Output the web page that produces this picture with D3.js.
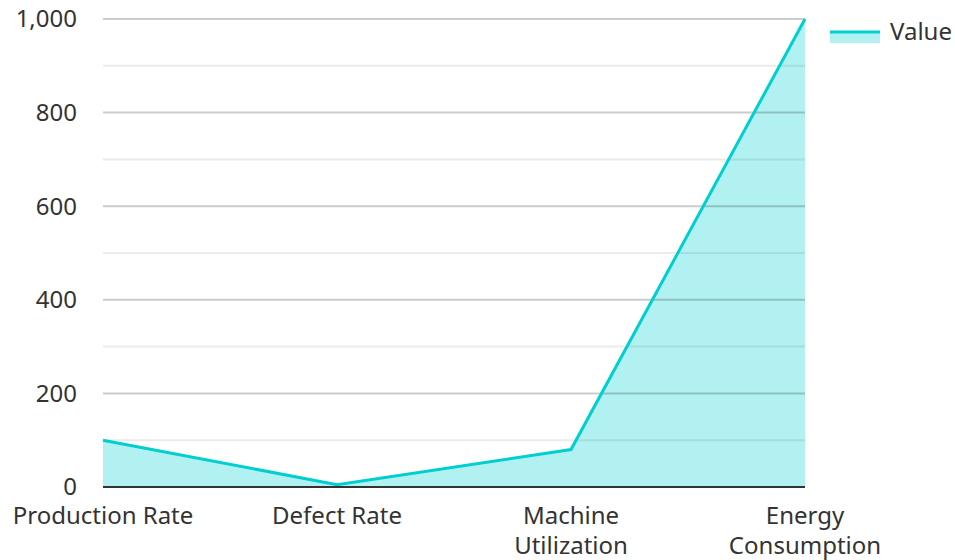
<!DOCTYPE html>
<html><head><meta charset="utf-8">
<script src="https://cdn.jsdelivr.net/npm/d3@7"></script>
<style>body{margin:0;background:#fff}text{font-family:"Noto Sans","Open Sans",sans-serif}</style>
</head><body><svg id="c" width="955" height="560"></svg>
<script>
const categories = ["Production Rate", "Defect Rate", "Machine Utilization", "Energy Consumption"];
const values = [100, 5, 80, 1000];
const yTicks = [0, 200, 400, 600, 800, 1000];
const yMinorTicks = [100, 300, 500, 700, 900];
const seriesName = "Value";

const svg = d3.select("#c");
const m = {l: 103, r: 150, t: 19, b: 73};
const W = 955, H = 560;
const x = d3.scalePoint().domain(categories).range([m.l, W - m.r]);
const y = d3.scaleLinear().domain([0, 1000]).range([H - m.b, m.t]);
const color = "#00cfcf";
const fs = 24;

// area
const data = categories.map((c, i) => ({c, v: values[i]}));
svg.append("path").datum(data)
  .attr("d", d3.area().x(d => x(d.c)).y0(y(0)).y1(d => y(d.v)))
  .attr("fill", color).attr("fill-opacity", 0.3);

// grid
svg.append("g").selectAll("line").data(yMinorTicks).join("line")
  .attr("x1", m.l).attr("x2", W - m.r).attr("y1", d => y(d)).attr("y2", d => y(d))
  .attr("stroke", "#000").attr("stroke-opacity", 0.08).attr("stroke-width", 2);
svg.append("g").selectAll("line").data(yTicks.filter(d => d > 0)).join("line")
  .attr("x1", m.l).attr("x2", W - m.r).attr("y1", d => y(d)).attr("y2", d => y(d))
  .attr("stroke", "#000").attr("stroke-opacity", 0.2).attr("stroke-width", 2);

// line
svg.append("path").datum(data)
  .attr("d", d3.line().x(d => x(d.c)).y(d => y(d.v)))
  .attr("fill", "none").attr("stroke", color).attr("stroke-width", 3);

// x axis baseline
svg.append("line").attr("x1", m.l).attr("x2", W - m.r).attr("y1", y(0)).attr("y2", y(0))
  .attr("stroke", "#333").attr("stroke-width", 2);

// y labels
const fmt = d3.format(",");
svg.append("g").selectAll("text").data(yTicks).join("text")
  .attr("x", 77).attr("y", d => y(d)).attr("dy", "0.35em").attr("text-anchor", "end")
  .attr("font-size", fs).attr("fill", "#333").text(d => fmt(d));

// x labels with wrapping
const xl = svg.append("g").selectAll("text").data(categories).join("text")
  .attr("x", d => x(d)).attr("y", 516).attr("text-anchor", "middle")
  .attr("font-size", fs).attr("fill", "#333");
xl.each(function(d) {
  const t = d3.select(this);
  const maxW = 200;
  const words = d.split(" ");
  let line = [], lines = [];
  words.forEach(w => {
    line.push(w);
    t.text(line.join(" "));
    if (this.getComputedTextLength() > maxW && line.length > 1) {
      line.pop(); lines.push(line.join(" ")); line = [w];
    }
  });
  lines.push(line.join(" "));
  t.text(null);
  lines.forEach((l, i) => t.append("tspan").attr("x", x(d)).attr("dy", i === 0 ? "0.35em" : "1.25em").text(l));
});

// legend
const lg = svg.append("g");
lg.append("rect").attr("x", 830).attr("y", 31).attr("width", 50).attr("height", 12)
  .attr("fill", color).attr("fill-opacity", 0.3);
lg.append("line").attr("x1", 830).attr("x2", 880).attr("y1", 32).attr("y2", 32)
  .attr("stroke", color).attr("stroke-width", 3);
lg.append("text").attr("x", 890).attr("y", 32).attr("dy", "0.35em")
  .attr("font-size", fs).attr("fill", "#333").text(seriesName);
</script></body></html>
